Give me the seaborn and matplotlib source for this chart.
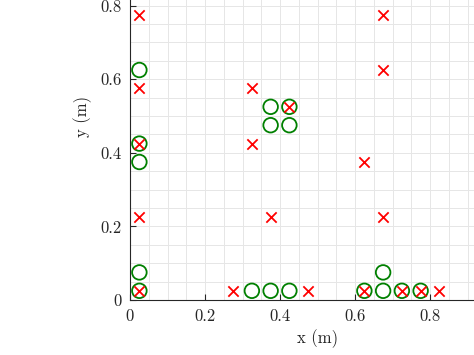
import numpy as np
import pandas as pd
import matplotlib
matplotlib.use("Agg")
import matplotlib.pyplot as plt
from matplotlib.ticker import MultipleLocator
import seaborn as sns

# red crosses
cross_x = [0.025, 0.025, 0.025, 0.025, 0.025, 0.325, 0.325, 0.425, 0.375, 0.275,
           0.475, 0.675, 0.675, 0.625, 0.675, 0.625, 0.725, 0.775, 0.825]
cross_y = [0.775, 0.575, 0.425, 0.225, 0.025, 0.575, 0.425, 0.525, 0.225, 0.025,
           0.025, 0.775, 0.625, 0.375, 0.225, 0.025, 0.025, 0.025, 0.025]

# green circles
circ_x = [0.025, 0.025, 0.025, 0.025, 0.025, 0.375, 0.425, 0.375, 0.425, 0.325,
          0.375, 0.425, 0.675, 0.625, 0.675, 0.725, 0.775]
circ_y = [0.625, 0.425, 0.375, 0.075, 0.025, 0.525, 0.525, 0.475, 0.475, 0.025,
          0.025, 0.025, 0.075, 0.025, 0.025, 0.025, 0.025]

sns.set_style("white")
plt.rcParams['font.family'] = 'serif'
plt.rcParams['font.serif'] = ['cmr10']
plt.rcParams['mathtext.fontset'] = 'cm'
plt.rcParams['axes.formatter.use_mathtext'] = True

fig = plt.figure(figsize=(4.74, 3.55), dpi=100)
ax = fig.add_axes([130 / 474, 55 / 355, 375 / 474, 368 / 355])

sns.scatterplot(x=circ_x, y=circ_y, marker='o', s=110, facecolors='none',
                edgecolors='#008000', linewidth=1.3, ax=ax, zorder=3)
sns.scatterplot(x=cross_x, y=cross_y, marker='x', s=55, color='#ff0000',
                linewidth=1.3, ax=ax, zorder=4)

ax.set_xlim(0, 1)
ax.set_ylim(0, 1)
ax.xaxis.set_major_locator(MultipleLocator(0.2))
ax.yaxis.set_major_locator(MultipleLocator(0.2))
ax.xaxis.set_minor_locator(MultipleLocator(0.05))
ax.yaxis.set_minor_locator(MultipleLocator(0.05))
ax.set_xticklabels([], minor=True)
ax.set_yticklabels([], minor=True)
ax.xaxis.set_major_formatter(matplotlib.ticker.FuncFormatter(lambda v, p: f"{v:g}"))
ax.yaxis.set_major_formatter(matplotlib.ticker.FuncFormatter(lambda v, p: f"{v:g}"))
ax.grid(True, which='both', color='#e6e6e6', linewidth=0.7)
ax.set_axisbelow(True)
ax.tick_params(axis='both', which='major', direction='in', length=4, labelsize=12,
               color='#262626', left=True, bottom=True, pad=6)
ax.tick_params(axis='both', which='minor', length=0)
for s in ['left', 'bottom']:
    ax.spines[s].set_color('#262626')
    ax.spines[s].set_linewidth(0.8)
ax.set_xlabel('x (m)', fontsize=12, labelpad=4)
ax.set_ylabel('y (m)', fontsize=12, labelpad=6)

fig.savefig('out.png', dpi=100)
